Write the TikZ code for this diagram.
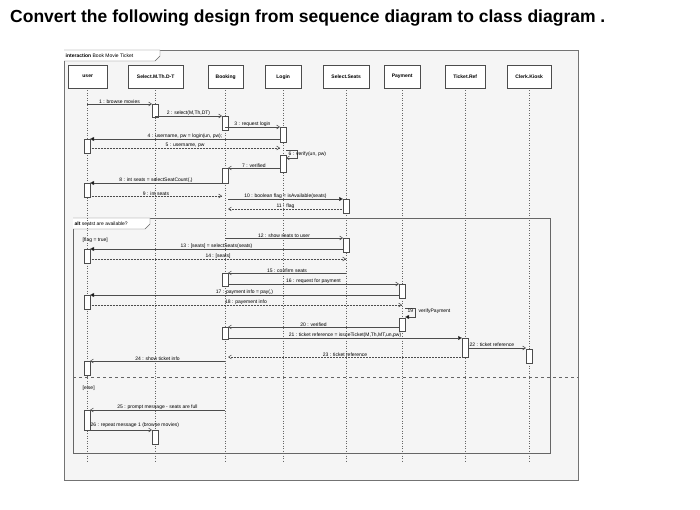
\documentclass[tikz,border=0pt]{standalone}
\usepackage{fontspec}
\setmainfont{Liberation Sans}
\usetikzlibrary{arrows.meta}
\tikzset{
  lbl/.style={font=\fontsize{5}{6}\selectfont, inner sep=0.5pt},
  head/.style={draw=black!70, fill=white, minimum height=23pt, inner sep=1pt, anchor=north west},
  life/.style={draw=black!60, dotted, line width=0.5pt},
  act/.style={draw=black!70, fill=white, line width=0.5pt},
  call/.style={draw=black!70, line width=0.5pt, -{Straight Barb[length=3pt,width=4pt]}},
  sync/.style={draw=black!70, line width=0.5pt, -{Triangle[length=4pt,width=4pt,fill=black]}},
  ret/.style={draw=black!70, line width=0.5pt, densely dotted, -{Straight Barb[length=3pt,width=4pt]}},
}
\newcommand{\actbox}[3]{\draw[act] (#1-3,#2) rectangle (#1+3,#3);}
\newcommand{\msgx}[5]{\draw[#5] (#1,#3) -- node[lbl,above] {#4} (#2,#3);}
\begin{document}
\begin{tikzpicture}[x=1pt,y=-1pt]
\useasboundingbox (0,0) rectangle (700,510);
\fill[white] (0,0) rectangle (700,510);
\node[font=\bfseries\fontsize{17.5}{20}\selectfont, anchor=west, inner sep=0pt] (title) at (10,18) {Convert the following design from sequence diagram to class diagram .};
% outer frame
\draw[black!55, fill=black!4, line width=0.8pt] (64,50) rectangle (578,480);
\draw[black!60, fill=white] (64,50) -- (160,50) -- (160,56) -- (155,61) -- (64,61);
\node[lbl, anchor=west] (ftitle) at (65,55.5) {\textbf{interaction} Book Movie Ticket};
% alt frame
\draw[black!60, line width=0.6pt] (73,218) rectangle (550,453);
\draw[black!60, fill=white] (73,218) -- (150,218) -- (150,224) -- (145,229) -- (73,229);
\node[lbl, anchor=west] (alttitle) at (74,223.5) {\textbf{alt} seatst are available?};
\draw[black!60, dashed, line width=0.6pt] (73,377) -- (578,377);
\node[lbl, anchor=west] (g1) at (82,240) {[flag = true]};
\node[lbl, anchor=west] (g2) at (82,388) {[else]};
% lifelines
\foreach \x in {87,155,225,283,346,402,465,529} \draw[life] (\x,88) -- (\x,462);
% heads
\node[head, minimum width=39pt] (h1) at (68,65) {};
\node[head, minimum width=55pt] (h2) at (128,65) {};
\node[head, minimum width=35pt] (h3) at (208,65) {};
\node[head, minimum width=36pt] (h4) at (265,65) {};
\node[head, minimum width=46pt] (h5) at (323,65) {};
\node[head, minimum width=36pt] (h6) at (384,65) {};
\node[head, minimum width=40pt] (h7) at (445,65) {};
\node[head, minimum width=44pt] (h8) at (507,65) {};
\foreach \n/\t in {h1/user,h2/Select.M.Th.D-T,h3/Booking,h4/Login,h5/Select.Seats,h6/Payment,h7/Ticket.Ref,h8/Clerk.Kiosk}
  \node[font=\bfseries\fontsize{5}{6}\selectfont, anchor=north] at ([yshift=-6pt]\n.north) {\t};
% activations
\actbox{155}{104}{117}
\actbox{225}{116}{130}
\actbox{283}{127}{142}
\actbox{87}{139}{153}
\actbox{283}{155}{172}
\actbox{225}{168}{183}
\actbox{87}{183}{197}
\actbox{346}{199}{213}
\actbox{346}{238}{252}
\actbox{87}{249}{263}
\actbox{225}{273}{286}
\actbox{402}{284}{298}
\actbox{87}{295}{309}
\actbox{402}{318}{331}
\actbox{225}{327}{339}
\actbox{465}{338}{357}
\actbox{529}{349}{363}
\actbox{87}{361}{375}
\actbox{87}{410}{430}
\actbox{155}{430}{444}
% messages
\msgx{87}{152}{104}{1 : browse movies}{call}
\msgx{155}{222}{116}{2 : select(M,Th,DT)}{call}
\msgx{225}{280}{127}{3 : request login}{call}
\msgx{280}{90}{139}{4 : username, pw = login(un, pw);}{sync}
\msgx{90}{280}{148}{5 : username, pw}{ret}
\draw[call] (286,150) -- (297,150) -- (297,158) -- (286,158);
\node[lbl, anchor=west] (m6) at (288,154) {6 : verify(un, pw)};
\msgx{280}{228}{168}{7 : verified}{call}
\msgx{222}{90}{183}{8 : int seats = selectSeatCount(,)}{sync}
\msgx{90}{222}{196}{9 : int seats}{ret}
\msgx{228}{343}{199}{10 : boolean flag = isAvailable(seats)}{sync}
\msgx{343}{228}{209}{11 : flag}{ret}
\msgx{225}{343}{238}{12 : show seats to user}{call}
\msgx{343}{90}{249}{13 : [seats] = selectSeats(seats)}{sync}
\msgx{90}{346}{259}{14 : [seats]}{ret}
\msgx{346}{228}{273}{15 : confirm seats}{call}
\msgx{228}{399}{284}{16 : request for payment}{call}
\msgx{399}{90}{295}{17 : payment info = pay(,)}{sync}
\msgx{90}{402}{305}{18 : payement info}{ret}
\draw[sync] (405,308) -- (415,308) -- (415,317) -- (405,317);
\node[lbl, anchor=west] (m19) at (407,311) {19};
\node[lbl, anchor=west] (m19b) at (418,311) {verifyPayment};
\msgx{399}{228}{327}{20 : verified}{call}
\msgx{228}{462}{338}{21 : ticket reference = issueTicket(M,Th,MT,un,pw)}{sync}
\draw[call] (468,348) -- (526,348);
\node[lbl, anchor=west] (m22) at (469,345) {22 : ticket reference};
\msgx{462}{228}{357}{23 : ticket reference}{ret}
\msgx{225}{90}{361}{24 : show ticket info}{call}
\msgx{225}{90}{410}{25 : prompt message - seats are full}{call}
\draw[call] (90,430) -- (152,430);
\node[lbl, anchor=west] (m26) at (90,425) {26 : repeat message 1 (browse movies)};
\end{tikzpicture}
\end{document}
